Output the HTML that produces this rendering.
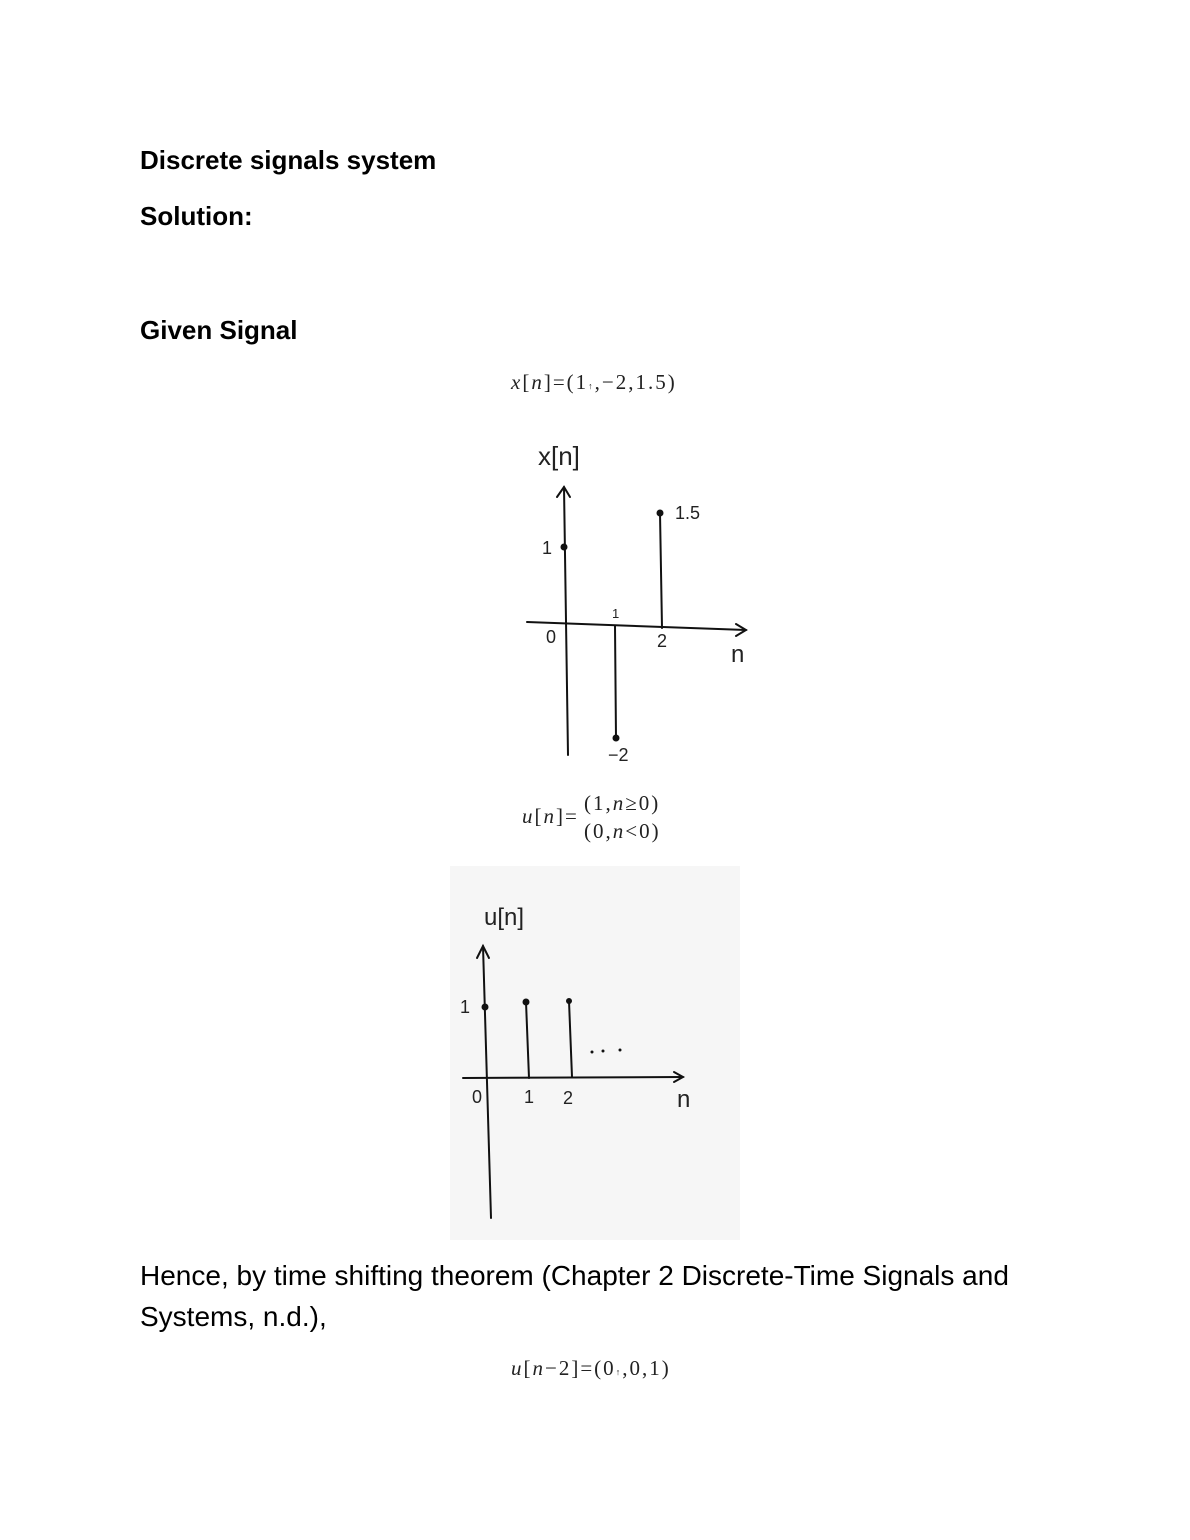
<!DOCTYPE html>
<html><head><meta charset="utf-8"><style>
body{margin:0;width:1190px;height:1540px;background:#fff;position:relative;font-family:"Liberation Sans",sans-serif;color:#000;overflow:hidden}
.h{position:absolute;left:140px;font-weight:bold;font-size:26px;line-height:30px;white-space:nowrap}
.t{position:absolute;left:140px;font-size:28px;line-height:41px;white-space:nowrap}
</style></head><body>
<div class="h" style="top:145px">Discrete signals system</div>
<div class="h" style="top:201px">Solution:</div>
<div class="h" style="top:315px">Given Signal</div>
<div class="t" style="top:1255px">Hence, by time shifting theorem (Chapter 2 Discrete-Time Signals and<br>Systems, n.d.),</div>
<svg width="1190" height="1540" style="position:absolute;left:0;top:0" font-family="Liberation Serif, serif">
<rect x="450" y="866" width="290" height="374" fill="#f6f6f6"/>
<g font-size="21" fill="#222" letter-spacing="2">
<text x="511" y="389"><tspan font-style="italic">x</tspan>[<tspan font-style="italic">n</tspan>]=(1<tspan font-size="9">↑</tspan>,−2,1.5)</text>
<text x="522" y="823"><tspan font-style="italic">u</tspan>[<tspan font-style="italic">n</tspan>]=</text>
<text x="584" y="810">(1,<tspan font-style="italic">n</tspan>≥0)</text>
<text x="584" y="838">(0,<tspan font-style="italic">n</tspan>&lt;0)</text>
<text x="511" y="1375"><tspan font-style="italic">u</tspan>[<tspan font-style="italic">n</tspan>−2]=(0<tspan font-size="9">↑</tspan>,0,1)</text>
</g>
<g stroke="#111" stroke-width="2" fill="none" stroke-linecap="round">
<path d="M564 487 L568 755"/><path d="M557 497 L564 487 L570 497"/>
<path d="M527 622 L746 630"/><path d="M736 624 L746 630 L736 636"/>
<path d="M615 626 L616 738"/><path d="M660 513 L662 628"/>
</g>
<g fill="#111"><circle cx="564" cy="547" r="3.5"/><circle cx="660" cy="513" r="3.5"/><circle cx="616" cy="738" r="3.5"/></g>
<g font-family="Liberation Sans, sans-serif" fill="#222" font-size="18">
<text x="538" y="465" font-size="26">x[n]</text>
<text x="542" y="554">1</text><text x="675" y="519">1.5</text>
<text x="612" y="618" font-size="13">1</text><text x="546" y="643">0</text><text x="657" y="647">2</text>
<text x="731" y="662" font-size="24">n</text><text x="608" y="761">−2</text>
</g>
<g stroke="#111" stroke-width="2" fill="none" stroke-linecap="round">
<path d="M483 946 L491 1218"/><path d="M477 958 L483 946 L489 958"/>
<path d="M463 1078 L683 1077"/><path d="M674 1072 L683 1077 L674 1082"/>
<path d="M526 1002 L529 1078"/><path d="M569 1001 L572 1077"/>
</g>
<g fill="#111"><circle cx="485" cy="1007" r="3.5"/><circle cx="526" cy="1002" r="3.5"/><circle cx="569" cy="1001" r="3"/>
<circle cx="592" cy="1052" r="1.5"/><circle cx="603" cy="1051" r="1.5"/><circle cx="620" cy="1050" r="1.5"/></g>
<g font-family="Liberation Sans, sans-serif" fill="#222" font-size="18">
<text x="484" y="925" font-size="24">u[n]</text>
<text x="460" y="1013">1</text><text x="472" y="1103">0</text><text x="524" y="1103">1</text><text x="563" y="1104">2</text>
<text x="677" y="1107" font-size="24">n</text>
</g>
</svg>
</body></html>
